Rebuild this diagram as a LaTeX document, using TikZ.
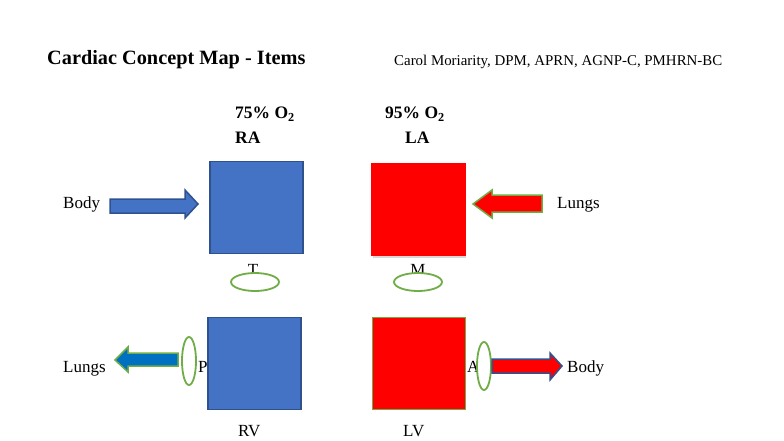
\documentclass[tikz,border=0pt]{standalone}
\usepackage{fontspec}
\setmainfont{Liberation Serif}
\usetikzlibrary{shapes.geometric,shadows}
\definecolor{boxblue}{HTML}{4472C4}
\definecolor{edgeblue}{HTML}{2F528F}
\definecolor{deepblue}{HTML}{0070C0}
\definecolor{leafgreen}{HTML}{70AD47}
\tikzset{
  lbl/.style={inner sep=0pt,anchor=base west,font=\fontsize{17}{19}\selectfont},
  boldlbl/.style={inner sep=0pt,anchor=base west,font=\fontsize{17.5}{19}\selectfont\bfseries},
  chamber/.style={draw,line width=1.3pt,minimum width=93pt,minimum height=92pt,inner sep=0pt},
  valve/.style={ellipse,draw=leafgreen,line width=1.8pt,fill=white,inner sep=0pt},
  arrowshape/.style={line width=1.5pt,line join=miter}
}
\begin{document}
\begin{tikzpicture}[x=1pt,y=-1pt]
\useasboundingbox (0,0) rectangle (784,441);
\fill[white] (0,0) rectangle (784,441);
% header
\node[inner sep=0pt,anchor=base west,font=\fontsize{20.3}{22}\selectfont\bfseries] (title) at (47,65) {Cardiac Concept Map - Items};
\node[inner sep=0pt,anchor=base west,font=\fontsize{14.9}{16}\selectfont] (author) at (394,66) {Carol Moriarity, DPM, APRN, AGNP-C, PMHRN-BC};
% top labels
\node[boldlbl] (o2r) at (235,119) {75\% O\textsubscript{2}};
\node[boldlbl] (o2l) at (385,119) {95\% O\textsubscript{2}};
\node[boldlbl] (ra) at (235,143) {RA};
\node[boldlbl] (la) at (405,143) {LA};
% valve letters (under the ellipses)
\node[lbl,anchor=base] (t) at (253,275) {T};
\node[lbl,anchor=base] (m) at (418,275) {M};
\node[lbl] (p) at (198,372) {P};
\node[lbl] (a) at (467,372) {A};
% chambers
\node[chamber,draw=edgeblue,fill=boxblue] (raBox) at (256.5,207.5) {};
\node[chamber,draw=red,fill=red,drop shadow={opacity=0.3,shadow xshift=1pt,shadow yshift=-2pt}] (laBox) at (418.5,209.5) {};
\node[chamber,draw=edgeblue,fill=boxblue] (rvBox) at (254.5,363.5) {};
\node[chamber,draw=leafgreen,fill=red] (lvBox) at (419,363.5) {};
% valves
\node[valve,minimum width=48pt,minimum height=18pt] (tv) at (255,282) {};
\node[valve,minimum width=48pt,minimum height=18pt] (mv) at (418,282) {};
\node[valve,minimum width=14pt,minimum height=48pt] (pv) at (189,361) {};
\node[valve,minimum width=14pt,minimum height=48pt] (av) at (484,366) {};
% side labels
\node[lbl] (bodyIn) at (63,208) {Body};
\node[lbl] (lungsIn) at (557,208) {Lungs};
\node[lbl] (lungsOut) at (63,372) {Lungs};
\node[lbl] (bodyOut) at (567,372) {Body};
% block arrows
\draw[arrowshape,draw=edgeblue,fill=boxblue] (110,199) -- (185,199) -- (185,190) -- (198,204) -- (185,218) -- (185,213) -- (110,213) -- cycle;
\draw[arrowshape,draw=leafgreen,fill=red] (542,195) -- (492,195) -- (492,190) -- (473,204) -- (492,218) -- (492,212) -- (542,212) -- cycle;
\draw[arrowshape,draw=leafgreen,fill=deepblue] (178,353) -- (128,353) -- (128,347) -- (115,360) -- (128,372) -- (128,366) -- (178,366) -- cycle;
\draw[arrowshape,draw=edgeblue,fill=red] (492,359) -- (550,359) -- (550,353) -- (562,366) -- (550,380) -- (550,373) -- (492,373) -- cycle;
% bottom labels
\node[lbl] (rv) at (238,436) {RV};
\node[lbl] (lv) at (403,436) {LV};
\end{tikzpicture}
\end{document}
